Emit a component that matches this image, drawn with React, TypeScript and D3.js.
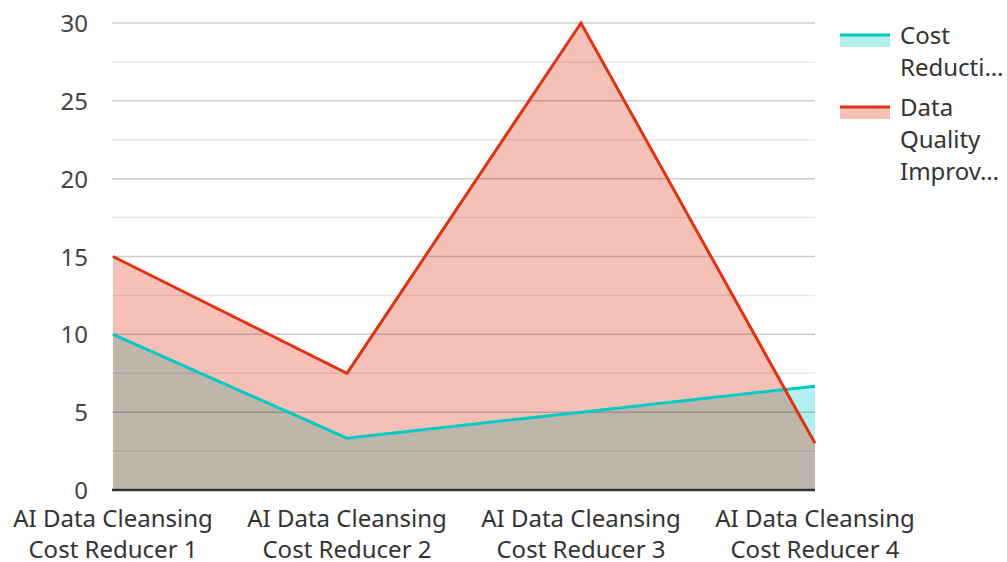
import React from "react";
import * as d3 from "d3";

const categories = [
  "AI Data Cleansing Cost Reducer 1",
  "AI Data Cleansing Cost Reducer 2",
  "AI Data Cleansing Cost Reducer 3",
  "AI Data Cleansing Cost Reducer 4",
];
const costReduction = [10, 3.33, 5, 6.67];
const dataQuality = [15, 7.5, 30, 3];
const seriesNames = ["Cost Reduction", "Data Quality Improvement"];
const legendLines = [["Cost", "Reducti…"], ["Data", "Quality", "Improv…"]];
const yTicks = [0, 5, 10, 15, 20, 25, 30];
const colors = ["#00c9c6", "#dd3311"];

export default function App() {
  const W = 1007, H = 562;
  const left = 113, right = 815, top = 23, bottom = 490;
  const x = d3.scalePoint<number>().domain(d3.range(categories.length)).range([left, right]);
  const y = d3.scaleLinear().domain([0, 30]).range([bottom, top]);
  const series = [costReduction, dataQuality];
  const area = (vals: number[]) =>
    d3.area<number>().x((_, i) => x(i)!).y0(y(0)).y1((d) => y(d))(vals) || "";
  const line = (vals: number[]) =>
    d3.line<number>().x((_, i) => x(i)!).y((d) => y(d))(vals) || "";
  const minor = d3.range(2.5, 30, 5);
  const font = "'Noto Sans', 'Open Sans', sans-serif";
  return (
    <svg width={W} height={H} style={{ position: "absolute", left: 0, top: 0 }} fontFamily={font}>
      <rect width={W} height={H} fill="#fff" />
      {series.map((s, i) => (
        <path key={"a" + i} d={area(s)} fill={colors[i]} fillOpacity={0.3} />
      ))}
      {minor.map((t) => (
        <line key={"m" + t} x1={left - 1} x2={right} y1={y(t)} y2={y(t)} stroke="#000" strokeOpacity={0.09} strokeWidth={1.5} />
      ))}
      {yTicks.filter((t) => t > 0).map((t) => (
        <line key={"g" + t} x1={left - 1} x2={right} y1={y(t)} y2={y(t)} stroke="#000" strokeOpacity={0.2} strokeWidth={1.5} />
      ))}
      {series.map((s, i) => (
        <path key={"l" + i} d={line(s)} fill="none" stroke={colors[i]} strokeWidth={3} />
      ))}
      <line x1={left - 1} x2={right} y1={y(0)} y2={y(0)} stroke="#333" strokeWidth={2.5} />
      {yTicks.map((t) => (
        <text key={"t" + t} x={88} y={y(t) + 9} textAnchor="end" fontSize={24} fill="#444">
          {t}
        </text>
      ))}
      {categories.map((c, i) => {
        const words = c.split(" ");
        const l1 = words.slice(0, 3).join(" ");
        const l2 = words.slice(3).join(" ");
        return (
          <text key={"c" + i} x={x(i)} textAnchor="middle" fontSize={24} fill="#333">
            <tspan x={x(i)} y={527}>{l1}</tspan>
            <tspan x={x(i)} y={558}>{l2}</tspan>
          </text>
        );
      })}
      {seriesNames.map((n, i) => {
        const ty = i === 0 ? 35 : 107;
        return (
          <g key={"lg" + i}>
            <title>{n}</title>
            <rect x={840} y={ty} width={50} height={12} fill={colors[i]} fillOpacity={0.3} />
            <line x1={840} x2={890} y1={ty} y2={ty} stroke={colors[i]} strokeWidth={3} />
            <text fontSize={24} fill="#333">
              {legendLines[i].map((l, j) => (
                <tspan key={j} x={900} y={ty + 9 + j * 32}>{l}</tspan>
              ))}
            </text>
          </g>
        );
      })}
    </svg>
  );
}
